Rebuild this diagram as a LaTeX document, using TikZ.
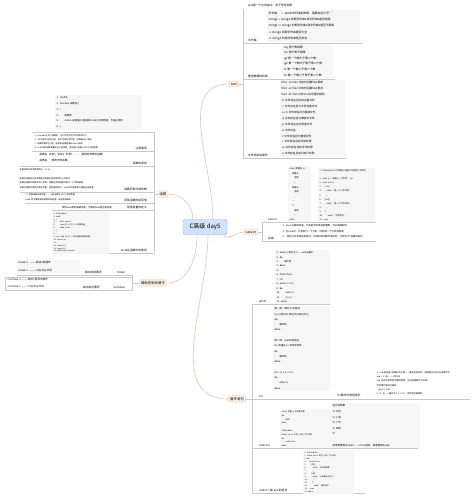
\documentclass[tikz,border=0pt]{standalone}
\usepackage{fontspec}
\setmainfont{Noto Sans CJK SC}
\usetikzlibrary{positioning}
\definecolor{rootfill}{HTML}{D3E2FA}
\definecolor{rootline}{HTML}{8FAEE3}
\definecolor{topicfill}{HTML}{FDF3E8}
\definecolor{topicline}{HTML}{E6C9AA}
\definecolor{linkcol}{HTML}{D9C9B8}
\definecolor{rulecol}{HTML}{C8C8C8}
\definecolor{boxfill}{HTML}{F6F6F6}

\begin{document}
\begin{tikzpicture}[x=1pt,y=-1pt,
    root/.style={draw=rootline,fill=rootfill,rounded corners=1.5pt,minimum width=44pt,minimum height=15pt,font=\fontsize{6}{7}\selectfont},
    topic/.style={draw=topicline,fill=topicfill,rounded corners=1pt,inner sep=1.6pt,font=\fontsize{3.4}{4}\selectfont},
    lbl/.style={anchor=base west,inner sep=0pt,font=\fontsize{2.8}{3}\selectfont},
    rlbl/.style={lbl,anchor=base east},
    txt/.style={fill=boxfill,anchor=north west,align=left,inner sep=1.5pt,font=\fontsize{2.6}{6}\selectfont},
    link/.style={draw=linkcol,line width=0.6pt},
    rule/.style={draw=rulecol,line width=0.3pt}]
\useasboundingbox[fill=white] (0,0) rectangle (474,496);

% main topics
\node[root] (c) at (205,227) {C高级 day5};
\node[topic] (test) at (234,84) {test};
\node[topic] (case) at (251,232) {case in};
\node[topic] (loop) at (237,399) {循环语句};
\node[topic] (func) at (163,194) {函数};
\node[topic] (aux) at (153,283) {辅助控制关键字};

\draw[link] ([xshift=8pt]c.north) to[out=90,in=180] (test.west);
\draw[link] ([xshift=-4pt]c.south east) to[out=-60,in=180] (case.west);
\draw[link] ([xshift=3pt]c.south) to[out=-90,in=180] (loop.west);
\draw[link] ([xshift=-12pt]c.north) to[out=90,in=0] (func.east);
\draw[link] ([xshift=-8pt]c.south) to[out=-90,in=0] (aux.east);

% test
\coordinate (tb) at (243,84);
\draw[rule] (test.east) -- (tb);
\draw[rule] (243,9) -- (243,158);
\draw[rule] (243,43) -- (362,43) (243,79) -- (335,79) (243,158) -- (346,158);
\node[lbl] (testtitle) at (248,6) {test是一个比较指令，用于条件判断};
\node[lbl] (strlbl) at (248,41.5) {字符串};
\node[lbl] (intlbl) at (248,77.5) {整型数据的判断};
\node[lbl] (filelbl) at (248,156.5) {文件相关的操作};
\node[txt,text width=90pt,font=\fontsize{2.8}{6.4}\selectfont] (strbox) at (267,10) {字符串： -----test中字符串的判断，需要加双引号""\\
string1 = string2 判断字符串1和字符串2是否相等\\
string1 != string2 判断字符串1和字符串2是否不相等\\
-z string1 判断字符串是否为空\\
-n string1 判断字符串是否非空};
\node[txt,text width=48pt,font=\fontsize{2.8}{5.6}\selectfont] (intbox) at (282,44) {-eq 两个数相等\\
-ne 两个数不相等\\
-gt 第一个数大于第二个数\\
-ge 第一个数大于等于第二个数\\
-lt 第一个数小于第二个数\\
-le 第一个数小于等于第二个数};
\node[txt,text width=62pt,font=\fontsize{2.7}{5.9}\selectfont] (filebox) at (280,80) {file1 -nt file2 比较时间戳file1更新\\
file1 -ot file2 比较时间戳file1更旧\\
file1 -ef file2 比较inode号是否相同\\
-b 文件存在且为块设备文件\\
-c 文件存在且为字符设备文件\\
-L/-h 文件存在且为链接文件\\
-S 文件存在且为套接字文件\\
-p 文件存在且为管道文件\\
-e 文件存在\\
-f 文件存在且为普通文件\\
-r 文件存在且有可读权限\\
-w 文件存在且有可写权限\\
-x 文件存在且有可执行权限};

% case in
\draw[rule] (case.east) -- (262,232);
\draw[rule] (262,222) -- (262,241);
\draw[rule] (262,222) -- (376,222) (262,241) -- (376,241);
\node[lbl] (caselbl) at (268,220.5) {case in};
\node[lbl] (sumlbl) at (268,239.5) {总结};
\node[txt,text width=20pt,font=\fontsize{2.3}{4.6}\selectfont] (casecode) at (288,166) {case 变量名 in\\
\quad 常量1)\\
\qquad 语句\\
\qquad ;;\\
\quad 常量2)\\
\qquad 语句\\
\qquad ;;\\
\quad ......\\
\quad *)\\
\qquad 语句\\
\qquad ;;\\
esac};
\node[txt,text width=54pt,font=\fontsize{2.1}{4.1}\selectfont] (casedemo) at (318,168) {1. \#!/bin/bash \# 判断输入的是大写还是小写字母\\
\mbox{}\\
1. read -p "请输入一个字符" var\\
2. case \$var in\\
3. \quad [a-z])\\
4. \qquad echo "是一个小写字母"\\
5. \qquad ;;\\
6. \quad [A-Z])\\
7. \qquad echo "是一个大写字母"\\
8. \qquad ;;\\
9. \quad *)\\
10. \qquad echo "不是字母"\\
11. esac};
\node[txt,fill=none,text width=94pt,font=\fontsize{2.4}{5.5}\selectfont] (casesum) at (281,223) {1. case 后面的变量，只能是字符串或者整数，可以用通配符\\
2. 在case中，只会执行一个分支，匹配到一个分支就结束\\
3. *相当于所有其他的情况，所有的情况都不满足时，才会执行*后面的语句};

% loops
\draw[rule] (loop.east) -- (252,399);
\draw[rule] (252,304) -- (252,493);
\draw[rule] (252,304) -- (330,304) (252,399) -- (470,399) (252,448) -- (418,448) (252,493) -- (365,493);
\node[lbl] (whilelbl) at (259,302.5) {while};
\node[lbl] (forlbl) at (259,397.5) {for};
\node[lbl] (seqlbl) at (337,396.5) {for循环中使用序列};
\node[lbl] (sellbl) at (259,446.5) {select in};
\node[lbl] (selcaselbl) at (259,491.5) {select + 和case 的组合};
\node[txt,text width=52pt,font=\fontsize{2.3}{4.45}\selectfont] (whilebox) at (275,250) {1. while (( 表达式 )) ------while循环\\
2. do\\
3. \qquad 循环体\\
4. done\\
5.\\
6. \#!/bin/bash\\
7. i=0\\
8. while (( i<5 ))\\
9. do\\
10. \qquad echo \$i\\
11. \qquad ((i++))\\
12. done};
\node[txt,text width=54pt,font=\fontsize{2.4}{5.3}\selectfont] (forbox) at (273,306) {第一种：类似于C的格式\\
for ((表达式1;表达式2;表达式3))\\
do\\
\qquad 循环体\\
done\\
\mbox{}\\
第二种：shell中的格式\\
for 变量名 in 字符串列表\\
do\\
\qquad 循环体\\
done\\
\mbox{}\\
for i in 1 2 3 4 5\\
do\\
\qquad echo \$i\\
done};
\node[txt,fill=none,text width=94pt,font=\fontsize{2.2}{4.2}\selectfont] (seqbox) at (375,370) {1. seq 起始值 间隔值 终止值 -----用来生成序列，间隔值为1时可以省略不写\\
seq 1 1 100 ----- 1到100\\
seq 也可以结合命令置换使用，生成的结果作为for的\\
字符串列表进行循环\\
\textasciigrave seq 1 1 100\textasciigrave\\
2. \{1..5\} ------展开为1 2 3 4 5，中间用空格隔开};
\node[txt,text width=48pt,font=\fontsize{2}{3.8}\selectfont] (selcode) at (280,409) {select 变量 in 字符串列表\\
do\\
\qquad 语句\\
done\\
\mbox{}\\
\#!/bin/bash\\
select var in 北京 上海 广州 深圳\\
do\\
\qquad echo \$var\\
done};
\node[txt,text width=86pt,font=\fontsize{2.5}{5.6}\selectfont] (selrun) at (331,403) {运行的效果\\
1) 北京\\
2) 上海\\
3) 广州\\
4) 深圳\\
\#?\\
\mbox{}\\
如果想要退出select -----ctrl+c退出，或者使用break};
\node[txt,text width=48pt,font=\fontsize{1.9}{3}\selectfont] (selcase) at (303,450) {1. \#!/bin/bash\\
2. select var in 北京 上海 广州 深圳\\
3. do\\
4. \quad case \$var in\\
5. \qquad 北京)\\
6. \qquad\quad echo "北京是首都"\\
7. \qquad\quad ;;\\
8. \qquad 上海)\\
9. \qquad\quad echo "上海是经济中心"\\
10. \qquad\quad ;;\\
11. \qquad *)\\
12. \qquad\quad echo "其他城市"\\
13. \quad esac\\
14. done};

% functions
\draw[rule] (func.west) -- (154,194);
\draw[rule] (154,132) -- (154,253);
\draw[rule] (32,132) -- (154,132) (32,151) -- (154,151) (20,166) -- (154,166) (20,192) -- (154,192) (25,203) -- (154,203) (52,210) -- (154,210) (52,253) -- (154,253);
\node[rlbl] (notelbl) at (147,149) {注意事项};
\node[rlbl] (calllbl) at (147,164) {函数的调用};
\node[rlbl] (paramlbl) at (147,190) {函数获取外部参数};
\node[rlbl] (retlbl) at (147,201.5) {获取函数的返回值};
\node[rlbl] (varlbl) at (147,208.5) {局部变量的定义};
\node[rlbl] (locallbl) at (147,251) {local在函数中的使用};
\node[txt,text width=84pt,font=\fontsize{2.4}{5.8}\selectfont] (funcdef) at (55,95) {1. shell中，\\
2. function 函数名()\\
3. \{\\
4. \qquad 函数体\\
5. \qquad return 返回值(只能返回0-255之间的数值，不是必须的)\\
6. \}};
\node[txt,fill=none,text width=88pt,font=\fontsize{2.1}{4}\selectfont] (notes) at (33,133) {1. function在定义函数时，可以写也可以不写(建议写上)\\
2. ()中不能写任何内容，因为没有形参列表，参数通过\$n获取\\
3. 函数体要写在\{\}里，函数的返回值通过return返回\\
4. shell中的函数需要先定义后调用，返回值只能是0-255之间的整数};
\node[txt,fill=none,text width=84pt,font=\fontsize{2.6}{6}\selectfont] (call) at (38,152) {函数名 \ 实参1 \ 实参2 \ 实参3 \ ...... \ (调用有参数的函数)\\
函数名 \quad (调用无参函数)};
\node[txt,fill=none,text width=98pt,font=\fontsize{2.1}{4.5}\selectfont] (param) at (18,167) {函数获取外部参数使用\$n \ \$1 \$2 ...\\
\mbox{}\\
函数中获取的外部参数是在函数外部调用时传入的实参\\
如果在函数中获取命令行参数，需要在调用函数时将\$1、\$2传给函数\\
如果在函数中使用外部的变量，直接使用即可，shell中的变量默认都是全局变量};
\node[txt,fill=none,text width=84pt,font=\fontsize{2.1}{4.5}\selectfont] (ret) at (24,192.5) {\$? 获取函数的返回值 ------ 只能获取0-255之间的数据\\
echo 命令置换获取函数的返回值，或者直接输出};
\node[lbl,font=\fontsize{2.3}{3}\selectfont] (varline) at (62,208.3) {使用local声明局部变量，不使用local是全局变量};
\node[txt,text width=54pt,font=\fontsize{1.9}{2.9}\selectfont] (funccode) at (52,211) {1. \#!/bin/bash\\
2. add()\\
3. \{\\
4. \qquad local sum=0\\
5. \qquad sum=\$(( \$1+\$2 )) \# 局部变量\\
6. \qquad echo \$sum\\
7. \}\\
8.\\
9. ret=\textasciigrave add 10 20\textasciigrave \ \# 命令置换获取返回值\\
10. echo \$ret\\
11.\\
12. num1=10\\
13. num2=20\\
14. add \$num1 \$num2};

% break / continue
\draw[rule] (aux.west) -- (132,283);
\draw[rule] (132,275) -- (132,290);
\draw[rule] (17,275) -- (132,275) (5,290) -- (132,290);
\node[rlbl] (brklbl) at (125,273.5) {break};
\node[rlbl] (brkdesc) at (102,273.5) {跳出本层循环};
\node[rlbl] (contlbl) at (125,288.5) {continue};
\node[rlbl] (contdesc) at (100,288.5) {跳出本次循环};
\node[txt,text width=60pt,font=\fontsize{2.6}{7.5}\selectfont] (brkbox) at (17,260) {break n \ ---------跳出n层循环\\
break 1 \ ---------n为1可以不写};
\node[txt,fill=none,text width=68pt,font=\fontsize{2.6}{7}\selectfont] (contbox) at (6,277) {continue n ---------跳出n层本次循环\\
continue 1 ---------n为1可以不写};
\draw[rule] (5,277) rectangle (132,290);

\end{tikzpicture}
\end{document}
